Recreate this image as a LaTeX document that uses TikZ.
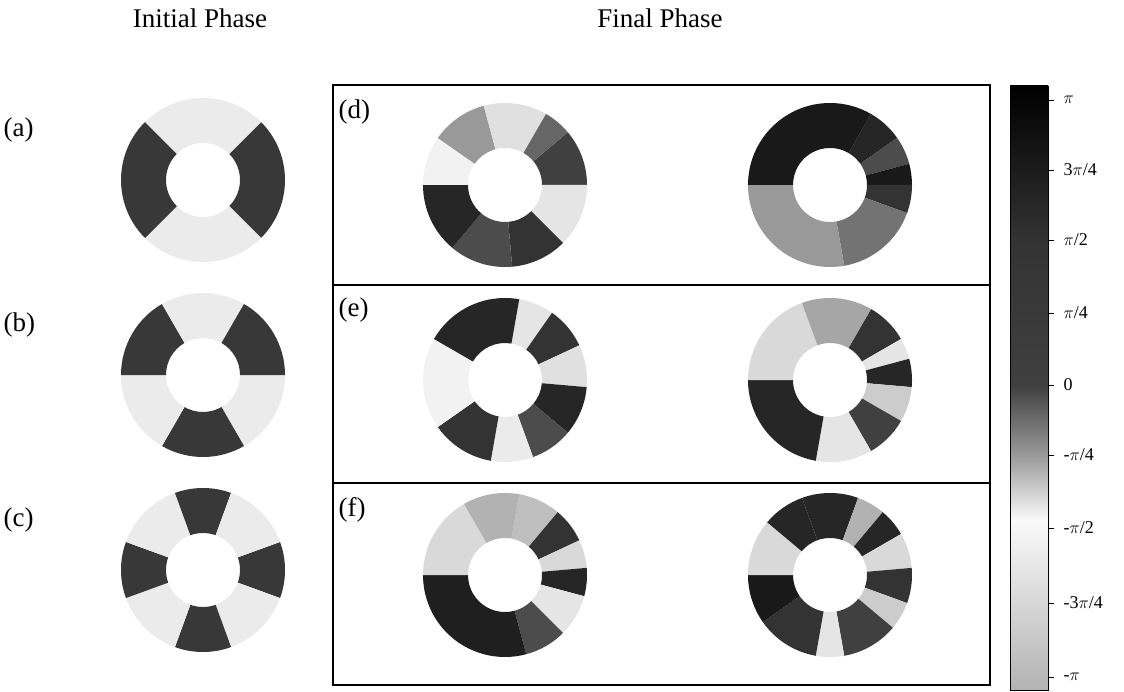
\documentclass[tikz,border=0pt]{standalone}
\usepackage{fontspec}
\setmainfont{Liberation Serif}
\usetikzlibrary{calc}

% one ring sector: centre x, centre y, start angle, end angle, colour
\newcommand\ringseg[5]{%
  \fill[#5] ([shift={(#1,#2)}]#3:82) arc[start angle=#3,end angle=#4,radius=82]
    -- ([shift={(#1,#2)}]#4:37) arc[start angle=#4,end angle=#3,radius=37] -- cycle;}

\tikzset{
  panel label/.style={font=\fontsize{27}{29}\selectfont,anchor=west},
  head label/.style={font=\fontsize{27}{29}\selectfont},
  tick label/.style={font=\fontsize{18}{20}\selectfont,anchor=west},
}
\colorlet{lite}{black!8}
\colorlet{dark}{black!78}

\begin{document}
\begin{tikzpicture}[x=1pt,y=-1pt]
  \useasboundingbox (0,0) rectangle (1124,692);

  \node[head label] (initial) at (200,18) {Initial Phase};
  \node[head label] (final) at (660,18) {Final Phase};

  % initial rings
  \foreach \a/\b/\c in {-45/45/dark,45/135/lite,135/225/dark,225/315/lite}
    {\ringseg{203}{180}{\a}{\b}{\c}}
  \foreach \a/\b/\c in {0/60/lite,60/120/dark,120/180/lite,180/240/dark,240/300/lite,300/360/dark}
    {\ringseg{203}{375}{\a}{\b}{\c}}
  \foreach \k in {0,...,3}
    {\ringseg{203}{570}{\k*90-20}{\k*90+20}{dark}
     \ringseg{203}{570}{\k*90+20}{\k*90+70}{lite}}

  % final rings (d)
  \foreach \a/\b/\c in {-40/0/black!75,0/45/black!10,45/85/black!80,85/130/black!70,
      130/180/black!85,180/215/black!5,215/255/black!40,255/300/black!12,300/320/black!60}
    {\ringseg{505}{185}{\a}{\b}{\c}}
  \foreach \a/\b/\c in {-60/-35/black!85,-35/-15/black!70,-15/0/black!90,0/20/black!80,
      20/80/black!55,80/180/black!40,180/300/black!90}
    {\ringseg{830}{185}{\a}{\b}{\c}}
  % final rings (e)
  \foreach \a/\b/\c in {-80/-55/black!10,-55/-25/black!80,-25/5/black!12,5/40/black!85,
      40/70/black!70,70/100/black!8,100/145/black!80,145/210/black!5,210/280/black!85}
    {\ringseg{505}{380}{\a}{\b}{\c}}
  \foreach \a/\b/\c in {-60/-30/black!80,-30/-15/black!10,-15/5/black!85,5/30/black!20,
      30/60/black!75,60/100/black!10,100/180/black!85,180/250/black!15,250/300/black!35}
    {\ringseg{830}{380}{\a}{\b}{\c}}
  % final rings (f)
  \foreach \a/\b/\c in {-80/-50/black!25,-50/-25/black!80,-25/-5/black!15,-5/15/black!85,
      15/45/black!10,45/75/black!70,75/180/black!88,180/240/black!15,240/280/black!30}
    {\ringseg{505}{575}{\a}{\b}{\c}}
  \foreach \a/\b/\c in {-110/-70/black!85,-70/-50/black!30,-50/-30/black!85,-30/-5/black!15,
      -5/20/black!80,20/40/black!20,40/80/black!75,80/100/black!10,100/145/black!80,
      145/180/black!90,180/220/black!15,220/250/black!85}
    {\ringseg{830}{575}{\a}{\b}{\c}}

  % boxes
  \draw[line width=1.2pt] (333,85) rectangle (990,685);
  \draw[line width=1.2pt] (333,285) -- (990,285);
  \draw[line width=1.2pt] (333,483) -- (990,483);

  \node[panel label] (a) at (0,130) {(a)};
  \node[panel label] (b) at (0,325) {(b)};
  \node[panel label] (c) at (0,520) {(c)};
  \node[panel label] (d) at (335,112) {(d)};
  \node[panel label] (e) at (335,310) {(e)};
  \node[panel label] (f) at (335,510) {(f)};

  % colour bar
  \shade[top color=black,bottom color=black!80] (1010,86) rectangle (1048,240);
  \shade[top color=black!80,bottom color=black!75] (1010,240) rectangle (1048,385);
  \shade[top color=black!75,bottom color=black!40] (1010,385) rectangle (1048,455);
  \shade[top color=black!40,bottom color=black!2] (1010,455) rectangle (1048,520);
  \shade[top color=black!2,bottom color=black!30] (1010,520) rectangle (1048,690);
  \draw (1010,86) rectangle (1048,690);
  \foreach \y/\t in {100/{$\pi$},170/{3$\pi$/4},240/{$\pi$/2},313/{$\pi$/4},385/{0},
      455/{-$\pi$/4},528/{-$\pi$/2},603/{-3$\pi$/4},677/{-$\pi$}}
    {\draw (1048,\y) -- (1054,\y);
     \node[tick label] at (1060,\y) {\t};}
\end{tikzpicture}
\end{document}
